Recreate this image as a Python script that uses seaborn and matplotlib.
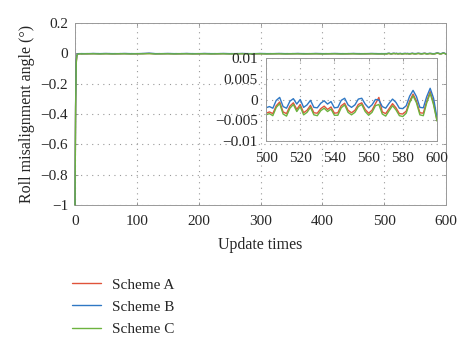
import numpy as np
import pandas as pd
import matplotlib
matplotlib.use("Agg")
import matplotlib.pyplot as plt
import seaborn as sns

sns.set_theme(style="white")
plt.rcParams['font.family'] = ['Liberation Serif', 'DejaVu Serif']

schemes = ["Scheme A", "Scheme B", "Scheme C"]
colors = ["#e0533a", "#2f78c4", "#6db33f"]

# update times: transient, coarse middle section, dense tail (inset)
t_start = [0, 1, 2, 3, 4, 5, 6, 7, 8, 9]
t_mid = list(range(10, 500, 10))
t_tail = list(range(500, 601, 2))

start_A = [-1.0, -0.35, -0.06, -0.015, -0.006, -0.004, -0.003, -0.003, -0.003, -0.003]
start_B = [-1.0, -0.33, -0.05, -0.012, -0.005, -0.003, -0.002, -0.002, -0.002, -0.002]
start_C = [-1.0, -0.36, -0.065, -0.016, -0.007, -0.005, -0.004, -0.004, -0.003, -0.003]

mid_A = [-0.003, -0.003, -0.002, -0.003, -0.002, -0.003, -0.003, -0.002, -0.003, -0.003,
         -0.002, -0.001, -0.003, -0.003, -0.002, -0.003, -0.003, -0.002, -0.003, -0.003,
         -0.002, -0.003, -0.003, -0.002, -0.003, -0.003, -0.002, -0.003, -0.003, -0.002,
         -0.003, -0.003, -0.002, -0.003, -0.003, -0.002, -0.003, -0.003, -0.002, -0.003,
         -0.003, -0.002, -0.003, -0.003, -0.002, -0.003, -0.003, -0.002, -0.003]
mid_B = [-0.002, -0.002, -0.001, -0.002, -0.001, -0.002, -0.002, -0.001, -0.002, -0.002,
         -0.001, 0.001, -0.002, -0.002, -0.001, -0.002, -0.002, -0.001, -0.002, -0.002,
         -0.001, -0.002, -0.002, -0.001, -0.002, -0.002, -0.001, -0.002, -0.002, -0.001,
         -0.002, -0.002, -0.001, -0.002, -0.002, -0.001, -0.002, -0.002, -0.001, -0.002,
         -0.002, -0.001, -0.002, -0.002, -0.001, -0.002, -0.002, -0.001, -0.002]
mid_C = [-0.004, -0.003, -0.003, -0.004, -0.003, -0.004, -0.003, -0.003, -0.004, -0.003,
         -0.003, -0.002, -0.004, -0.003, -0.003, -0.004, -0.003, -0.003, -0.004, -0.003,
         -0.003, -0.004, -0.003, -0.003, -0.004, -0.003, -0.003, -0.004, -0.003, -0.003,
         -0.004, -0.003, -0.003, -0.004, -0.003, -0.003, -0.004, -0.003, -0.003, -0.004,
         -0.003, -0.003, -0.004, -0.003, -0.003, -0.004, -0.003, -0.003, -0.004]

# tail values (x 1e-3), t = 500..600 step 2
tail_A = [-3.3, -3.0, -3.4, -1.5, -0.6, -3.0, -3.4, -1.6, -0.8, -2.4, -1.2, -3.2, -2.6,
          -1.4, -3.2, -3.3, -2.2, -1.6, -2.4, -1.8, -3.3, -3.2, -1.5, -0.9, -2.6, -3.2,
          -2.6, -1.2, -0.8, -2.4, -3.3, -2.6, -1.0, 0.5, -3.0, -3.4, -2.2, -1.0, -2.0,
          -3.4, -3.5, -2.8, -0.4, 1.3, -0.4, -3.2, -3.3, -0.4, 1.9, -0.9, -5.0]
tail_B = [-2.0, -1.7, -2.1, -0.2, 0.5, -1.7, -2.1, -0.4, 0.2, -1.1, 0.0, -1.9, -1.3,
          -0.2, -1.9, -2.0, -0.9, -0.3, -1.1, -0.5, -2.0, -1.9, -0.2, 0.3, -1.3, -1.9,
          -1.3, 0.1, 0.3, -1.1, -2.0, -1.3, 0.0, -0.1, -1.7, -2.1, -0.9, 0.1, -0.7,
          -2.1, -2.2, -1.5, 0.8, 2.2, 0.7, -1.9, -2.0, 0.7, 2.7, 0.3, -4.5]
tail_C = [-3.7, -3.4, -3.9, -1.9, -1.0, -3.5, -4.0, -2.1, -1.2, -2.9, -1.7, -3.7, -3.1,
          -1.9, -3.7, -3.9, -2.7, -2.1, -2.9, -2.3, -3.8, -3.8, -2.0, -1.3, -3.1, -3.7,
          -3.1, -1.7, -1.2, -2.9, -3.8, -3.1, -1.5, -1.2, -3.5, -4.0, -2.7, -1.5, -2.5,
          -3.9, -4.1, -3.3, -0.8, 0.9, -0.8, -3.7, -3.9, -0.8, 1.5, -1.3, -5.2]

t_all = t_start + t_mid + t_tail
series = {
    "Scheme A": start_A + mid_A + [v / 1000 for v in tail_A],
    "Scheme B": start_B + mid_B + [v / 1000 for v in tail_B],
    "Scheme C": start_C + mid_C + [v / 1000 for v in tail_C],
}
df = pd.concat([pd.DataFrame({"t": t_all, "val": series[s], "scheme": s}) for s in schemes],
               ignore_index=True)
df_tail = df[df["t"] >= 500]

fig = plt.figure(figsize=(4.74, 3.49), dpi=100)
ax = fig.add_axes([75 / 474, 1 - 205 / 349, (446 - 75) / 474, (205 - 23) / 349])

palette = dict(zip(schemes, colors))
sns.lineplot(data=df, x="t", y="val", hue="scheme", palette=palette, ax=ax,
             linewidth=1.0, estimator=None, sort=True)
for ln in ax.lines:
    ln.set_clip_on(False)
    ln.set_zorder(3)

ax.set_xlim(0, 600)
ax.set_ylim(-1, 0.2)
ax.set_xticks([0, 100, 200, 300, 400, 500, 600])
ax.set_yticks([-1, -0.8, -0.6, -0.4, -0.2, 0, 0.2])
ax.set_yticklabels(["\u22121", "\u22120.8", "\u22120.6", "\u22120.4", "\u22120.2", "0", "0.2"])
ax.set_xlabel("Update times", fontsize=11.5, labelpad=7)
ax.set_ylabel("Roll misalignment angle (\u00b0)", fontsize=11.5, labelpad=4)
ax.tick_params(axis="x", pad=7)
ax.tick_params(axis="y", pad=5)
ax.tick_params(axis="both", direction="in", length=2.5, width=0.6, color="#888888",
               labelsize=11, top=True, right=True, bottom=True, left=True)
ax.grid(True, linestyle=(0, (1, 4)), color="#999999", linewidth=0.8)
for sp in ax.spines.values():
    sp.set_color("#999999")
    sp.set_linewidth(0.7)

handles, labels = ax.get_legend_handles_labels()
ax.get_legend().remove()
fig.legend(handles, labels, loc="upper left", bbox_to_anchor=(72 / 474, 1 - 278 / 349),
           frameon=False, fontsize=11, handlelength=1.9, handletextpad=0.7,
           labelspacing=0.55, borderpad=0, borderaxespad=0)

# inset
axi = fig.add_axes([266 / 474, 1 - 141 / 349, (437 - 266) / 474, (141 - 58) / 349])
sns.lineplot(data=df_tail, x="t", y="val", hue="scheme", palette=palette, ax=axi,
             linewidth=1.0, estimator=None, legend=False)
axi.set_xlim(500, 600)
axi.set_ylim(-0.01, 0.01)
axi.set_xticks([500, 520, 540, 560, 580, 600])
axi.set_yticks([-0.01, -0.005, 0, 0.005, 0.01])
axi.set_yticklabels(["\u22120.01", "\u22120.005", "0", "0.005", "0.01"])
axi.set_xlabel("")
axi.set_ylabel("")
axi.tick_params(axis="x", pad=8)
axi.tick_params(axis="y", pad=6)
axi.tick_params(axis="both", direction="in", length=2, width=0.6, color="#888888",
                labelsize=11, top=True, right=True)
axi.grid(True, linestyle=(0, (1, 4)), color="#999999", linewidth=0.8)
for sp in axi.spines.values():
    sp.set_color("#999999")
    sp.set_linewidth(0.7)

fig.savefig("out.png", dpi=100)
